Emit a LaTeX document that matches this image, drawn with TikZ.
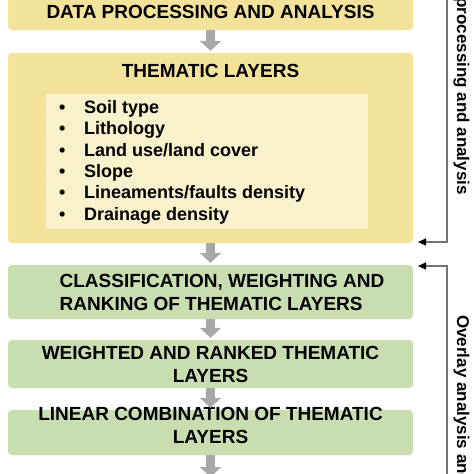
\documentclass[tikz,border=0pt]{standalone}
\usepackage{fontspec}
\setmainfont{Liberation Sans}
\usetikzlibrary{arrows.meta}
\definecolor{stageyellow}{HTML}{F3E29A}
\definecolor{listyellow}{HTML}{F9F1CC}
\definecolor{stagegreen}{HTML}{C8DDB0}
\definecolor{flowgray}{HTML}{A8A8A8}
\begin{document}
\begin{tikzpicture}[x=1pt,y=-1pt,
    stage/.style={rounded corners=4pt,minimum width=405pt,inner sep=0pt,align=center,
      font=\fontsize{19}{23}\selectfont\bfseries},
    yellowstage/.style={stage,fill=stageyellow,draw=stageyellow!70!white},
    greenstage/.style={stage,fill=stagegreen,draw=stagegreen!70!white},
    layeritem/.style={anchor=base west,inner sep=0pt,font=\fontsize{18}{18}\selectfont\bfseries},
    flow/.style={draw=flowgray,line width=9pt,shorten >=2pt,-{Triangle[width=21pt,length=10pt]}},
    bracket/.style={draw=black!55,line width=1.2pt},
    sidelabel/.style={rotate=-90,inner sep=0pt,font=\fontsize{17}{17}\selectfont\bfseries}]
  \useasboundingbox (0,0) rectangle (474,474);
  \clip (0,0) rectangle (474,474);
  \node[yellowstage,minimum height=36pt] (datap) at (210.5,12) {DATA PROCESSING AND ANALYSIS};
  \node[yellowstage,minimum height=190pt] (thematic) at (210.5,148) {};
  \node[stage,minimum width=0pt] (thtitle) at (210.5,71) {THEMATIC LAYERS};
  \node[fill=listyellow,minimum width=322pt,minimum height=135pt] (layerlist) at (207,161.5) {};
  \foreach \layer [count=\i] in {Soil type,Lithology,Land use/land cover,Slope,Lineaments/faults density,Drainage density}
    \node[layeritem] (layer\i) at (59,{113.5+21.35*(\i-1)}) {\makebox[25pt][l]{\textbullet}\layer};
  \node[greenstage,minimum height=54pt,align=left] (classify) at (210.5,292)
    {\hspace*{23pt}CLASSIFICATION, WEIGHTING AND\\\hspace*{23pt}RANKING OF THEMATIC LAYERS};
  \node[greenstage,minimum height=48pt] (weighted) at (210.5,364)
    {WEIGHTED AND RANKED THEMATIC\\LAYERS};
  \node[greenstage,minimum height=45pt,text height=23pt] (lincomb) at (210.5,432.5)
    {LINEAR COMBINATION OF THEMATIC\\LAYERS};
  \coordinate (next) at (210.5,479);
  \begin{scope}[flow]
    \draw (datap) to (thematic);
    \draw (thematic) to (classify);
    \draw (classify) to (weighted);
    \draw (weighted) to (lincomb);
    \draw (lincomb) to (next);
  \end{scope}
  \coordinate (dptop) at (447,-5);
  \coordinate (dpend) at (418,242);
  \coordinate (ovstart) at (418,266);
  \coordinate (ovend) at (447,480);
  \draw[bracket,-{Triangle[width=7pt,length=8pt,black]}] (dptop) |- (dpend);
  \draw[bracket,{Triangle[width=7pt,length=8pt,black]}-] (ovstart) -| (ovend);
  \node[sidelabel,anchor=base east] (dplabel) at (457,195) {processing and analysis};
  \node[sidelabel,anchor=base west] (ovlabel) at (457,315) {Overlay analysis and};
\end{tikzpicture}
\end{document}
